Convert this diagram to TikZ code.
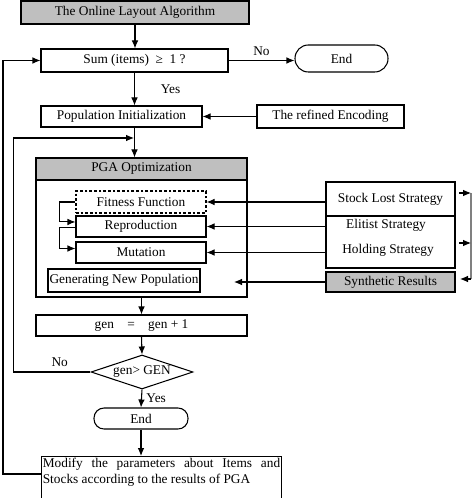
\documentclass[tikz,border=0pt]{standalone}
\usepackage{fontspec}
\setmainfont{Liberation Serif}
\usetikzlibrary{shapes.geometric,arrows.meta}
\tikzset{>={Latex[length=6pt,width=5pt]}}
\tikzset{
    box/.style={draw, line width=0.8pt, inner sep=1pt},
    sz/.style 2 args={minimum width=#1*0.75pt, minimum height=#2*0.75pt},
    shade/.style={fill=gray!50},
    link/.style={line width=0.8pt},
}

\begin{document}
\begin{tikzpicture}[x=0.75pt, y=-0.75pt]
    \useasboundingbox (0,0) rectangle (474,498);
    \node[box, shade, sz={228}{23}](title) at (135,12.5){The Online Layout Algorithm};
    \node[box, sz={187}{23}](sum) at (134.5,60.5){Sum (items)\enspace ≥\enspace 1 ?};
    \node[box, rounded corners=10pt, sz={93}{27}](end1) at (341.5,58.5){End};
    \node[box, sz={161}{21}](init) at (121.5,116.5){Population Initialization};
    \node[box, sz={147}{23}](enc) at (330.5,116.5){The refined Encoding};
    % PGA block
    \node[box, sz={211}{139}](pga) at (141.5,227.5){};
    \node[box, shade, sz={211}{22}, anchor=north](pgahead) at (pga.north){PGA Optimization};
    \node[box, dash pattern=on 2pt off 1.5pt, sz={130}{22}](fit) at (141,202){Fitness Function};
    \node[box, sz={130}{21}](rep) at (141,226.5){Reproduction};
    \node[box, sz={130}{21}](mut) at (141,252.5){Mutation};
    \node[box, sz={152}{23}](newpop) at (124,280.5){Generating New Population};
    \coordinate(popin) at (234,282);
    % strategies
    \node[box, sz={129}{34}](stock) at (390.5,199){Stock Lost Strategy};
    \node[box, sz={129}{52}](strat) at (390.5,242){};
    \node(elit) at (386,225){Elitist Strategy};
    \node(hold) at (388,250){Holding Strategy};
    \node[box, shade, sz={129}{20}](synth) at (390.5,282){Synthetic Results};
    \coordinate(rtop) at (471,193);
    \coordinate(rmid) at (471,243);
    \coordinate(rbot) at (471,279);
    % loop
    \node[box, sz={211}{21}](gen) at (141.5,325.5){gen\quad =\quad gen + 1};
    \node[box, diamond, aspect=3, sz={102}{34}, inner sep=0pt](test) at (142,372){gen> GEN};
    \node[box, rounded corners=7.5pt, sz={94}{21}](end2) at (141,418.5){End};
    \node[box, anchor=north, text width=178pt, align=justify](mod) at (161.5,456)
        {Modify the parameters about Items and Stocks according to the results of PGA\rule[-20pt]{0pt}{1pt}};
    \coordinate(nojoin) at (134,138);

    \draw[link, ->](title.south) -- (title.south |- sum.north);
    \draw[link, ->](sum.east) -- (sum.east -| end1.west)node[midway, above]{No};
    \draw[link, ->](sum.south) -- (sum.south |- init.north)node[midway, right=16pt]{Yes};
    \draw[link, ->](enc.west) -- (init.east);
    \draw[link, ->](sum.south |- init.south) -- (sum.south |- pgahead.north);
    \draw[link, ->](fit.west) -- ++(-16,0) |- ([yshift=3.4pt]rep.west);
    \draw[link, ->]([yshift=-1pt]rep.west) -- ++(-16,0) |- ([yshift=3pt]mut.west);
    \draw[link, ->](stock.west |- fit.east) -- (fit.east);
    \draw[link, ->](strat.west |- rep.east) -- (rep.east);
    \draw[link, ->](strat.west |- mut.east) -- (mut.east);
    \draw[link, ->](synth.west) -- (popin);
    \draw[link, gray](rtop) -- (rbot);
    \draw[link, ->](rtop) ++(-12,0) -- (rtop);
    \draw[link, ->](rmid) ++(-12,0) -- (rmid);
    \draw[link, ->](rbot) -- ++(-11,0);
    \draw[link, ->](pga.south) -- (gen.north);
    \draw[link, ->](gen.south) -- (test.north);
    \draw[link, ->](test.west) -- ++(-77,0)node[pos=.4, above]{No} |- (nojoin);
    \draw[link, ->](test.south) -- (end2.north)node[midway, right]{Yes};
    \draw[link, ->](end2.south) -- (end2.south |- mod.north);
    \draw[link, ->]([yshift=-13.5pt]mod.north west) -- ++(-38,0) |- (sum.west);
\end{tikzpicture}
\end{document}
